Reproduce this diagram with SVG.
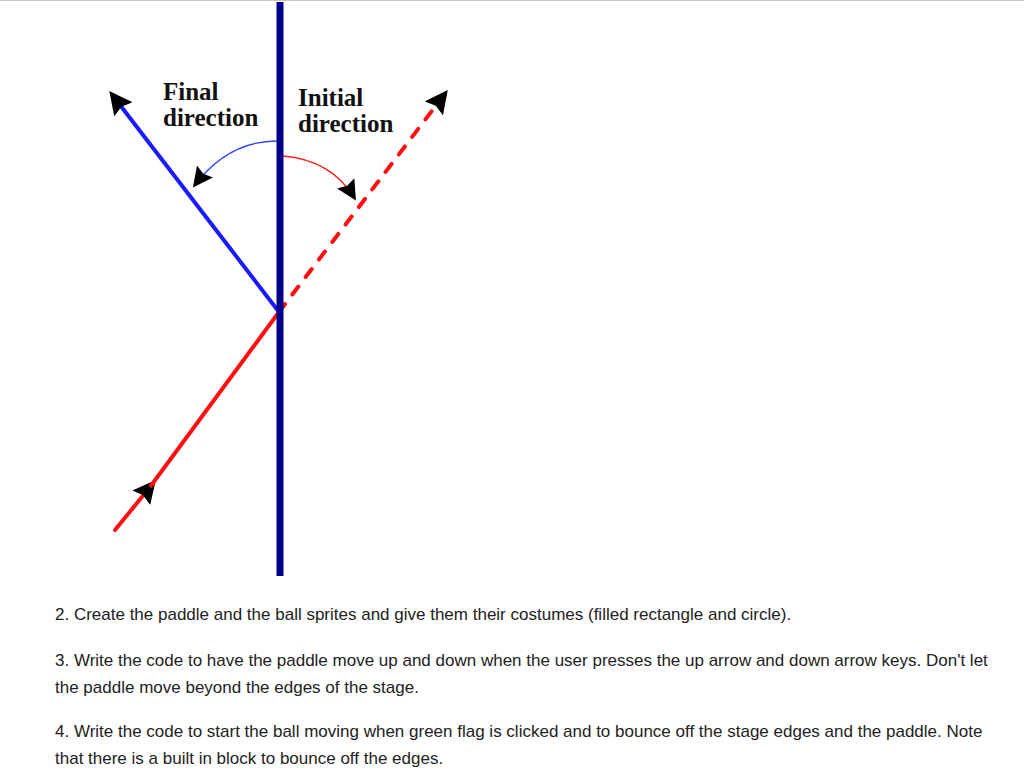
<svg xmlns="http://www.w3.org/2000/svg" width="1024" height="779" viewBox="0 0 1024 779">
<style>
.lbl{font-family:"Liberation Serif","Times New Roman",serif;font-weight:bold;font-size:25px;fill:#111}
.body{font-family:"Liberation Sans",Arial,sans-serif;font-size:17px;fill:#222}
</style>
<defs>
<marker id="arr" viewBox="0 0 22 22" refX="17" refY="11" markerWidth="23" markerHeight="23" markerUnits="userSpaceOnUse" orient="auto">
<path d="M0,0 L22,11 L0,22 L3,11 z" fill="#000"/>
</marker>
<marker id="arrs" viewBox="0 0 22 22" refX="20" refY="11" markerWidth="20" markerHeight="20" markerUnits="userSpaceOnUse" orient="auto">
<path d="M0,0 L22,11 L0,22 L3,11 z" fill="#000"/>
</marker>
</defs>
<rect x="0" y="0" width="1024" height="779" fill="#fff"/>
<line x1="0" y1="0.5" x2="1024" y2="0.5" stroke="#c8c8c8" stroke-width="1"/>
<g id="connectors">
<line id="blue-final" x1="279" y1="312" x2="112.5" y2="95.2" stroke="#1a1aff" stroke-width="4" marker-end="url(#arr)"/>
<line id="red-initial" x1="279" y1="312" x2="444.6" y2="94.2" stroke="#ff1010" stroke-width="4" stroke-dasharray="10 12" stroke-linecap="round" marker-end="url(#arr)"/>
<line id="red-in1" x1="115" y1="530" x2="152.5" y2="484" stroke="#ff1010" stroke-width="4" stroke-linecap="round" marker-end="url(#arr)"/>
<line id="red-in2" x1="150" y1="487" x2="279" y2="312" stroke="#ff1010" stroke-width="4"/>
<path id="blue-arc" d="M277,141 Q228,141 194,186" fill="none" stroke="#3344ff" stroke-width="1.3" marker-end="url(#arrs)"/>
<path id="red-arc" d="M283,156 Q332,160 355,199" fill="none" stroke="#ff2020" stroke-width="1.3" marker-end="url(#arrs)"/>
</g>
<g id="wall">
<line x1="280" y1="2" x2="280" y2="576" stroke="#00008b" stroke-width="7"/>
</g>
<g id="label-final">
<text class="lbl" x="163" y="100">Final</text>
<text class="lbl" x="163" y="126">direction</text>
</g>
<g id="label-initial">
<text class="lbl" x="298" y="106">Initial</text>
<text class="lbl" x="298" y="132">direction</text>
</g>
<g id="instructions">
<text class="body" x="55" y="620">2. Create the paddle and the ball sprites and give them their costumes (filled rectangle and circle).</text>
<text class="body" x="55" y="666">3. Write the code to have the paddle move up and down when the user presses the up arrow and down arrow keys. Don't let</text>
<text class="body" x="55" y="693">the paddle move beyond the edges of the stage.</text>
<text class="body" x="55" y="737">4. Write the code to start the ball moving when green flag is clicked and to bounce off the stage edges and the paddle. Note</text>
<text class="body" x="55" y="764">that there is a built in block to bounce off the edges.</text>
</g>
</svg>
